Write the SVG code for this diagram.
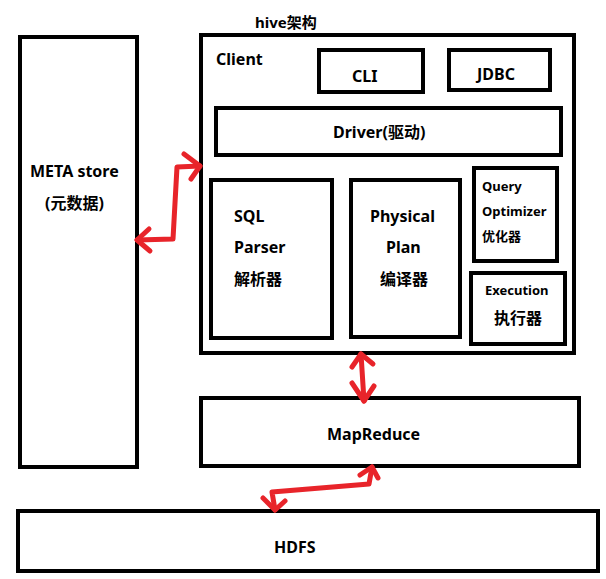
<svg xmlns="http://www.w3.org/2000/svg" width="606" height="579" viewBox="0 0 606 579">
<style>
.b{fill:none;stroke:#000;stroke-width:4}
text{font-family:"Noto Sans","Noto Sans CJK SC",sans-serif;font-weight:bold;font-size:16px;fill:#000}
.s{font-size:13px}
.a{fill:none;stroke:#e8242a;stroke-width:5;stroke-linecap:round;stroke-linejoin:round}
</style>
<rect width="606" height="579" fill="#fff"/>
<text x="255" y="28" class="s" style="font-size:15px">hive架构</text>
<g id="meta"><rect class="b" x="20" y="37" width="117" height="430"/><text x="30" y="177">META store</text><text x="45" y="209">(元数据)</text></g>
<g id="client"><rect class="b" x="201" y="35" width="373" height="318"/><text x="216" y="65">Client</text></g>
<g id="cli"><rect class="b" x="319" y="50" width="104" height="42"/><text x="352" y="82">CLI</text></g>
<g id="jdbc"><rect class="b" x="449" y="50" width="101" height="40"/><text x="477" y="80">JDBC</text></g>
<g id="driver"><rect class="b" x="216" y="108" width="345" height="47"/><text x="333" y="138">Driver(驱动)</text></g>
<g id="sql"><rect class="b" x="211" y="180" width="121" height="158"/><text x="234" y="222">SQL</text><text x="234" y="253">Parser</text><text x="234" y="285">解析器</text></g>
<g id="phys"><rect class="b" x="351" y="180" width="109" height="157"/><text x="370" y="222">Physical</text><text x="386" y="253">Plan</text><text x="380" y="285">编译器</text></g>
<g id="query"><rect class="b" x="474" y="168" width="83" height="93"/><text x="482" y="191" class="s">Query</text><text x="482" y="216" class="s">Optimizer</text><text x="482" y="241" class="s">优化器</text></g>
<g id="exec"><rect class="b" x="471" y="273" width="94" height="71"/><text x="485" y="295" class="s">Execution</text><text x="494" y="324">执行器</text></g>
<g id="mr"><rect class="b" x="201" y="398" width="378" height="68"/><text x="327" y="440">MapReduce</text></g>
<g id="hdfs"><rect class="b" x="18" y="511" width="580" height="60"/><text x="274" y="553">HDFS</text></g>
<g id="connectors">
<path class="a" d="M137 240 L173 239 L177 167 L200 166"/>
<path class="a" d="M149 229 L137 240 L150 251"/>
<path class="a" d="M184 154 L200 166 L191 179"/>
<path class="a" d="M361 354 L364 401"/>
<path class="a" d="M352 367 L361 354 L373 364"/>
<path class="a" d="M352 383 L364 401 L374 386"/>
<path class="a" d="M275 510 L272 492 L369 484 L372 467"/>
<path class="a" d="M263 498 L275 510 L285 501"/>
<path class="a" d="M360 475 L372 467 L378 478"/>
</g>
</svg>
